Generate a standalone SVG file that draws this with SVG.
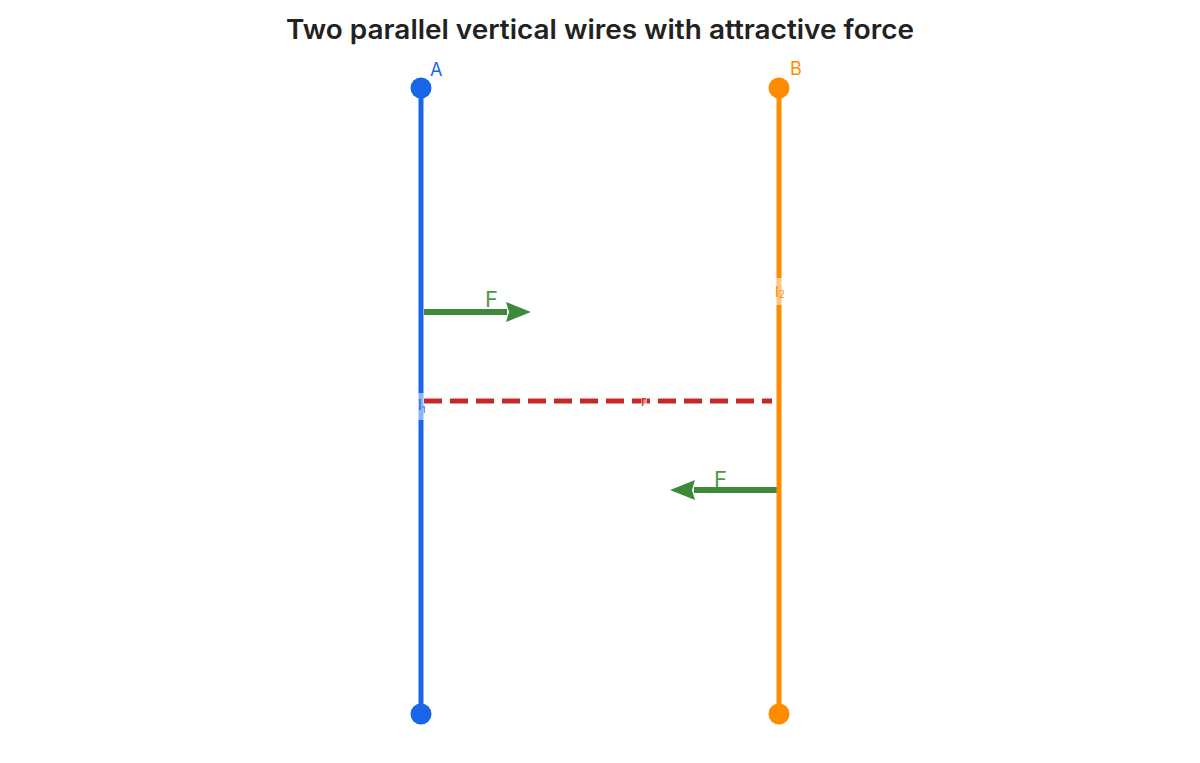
<svg xmlns="http://www.w3.org/2000/svg" width="1200" height="763" viewBox="0 0 1200 763">
  <defs>
    <style>
      .title { font-family: Inter, "Liberation Sans", sans-serif; font-weight: 600; font-size: 27px; fill: #222222; }
      .lbl { font-family: Inter, "Liberation Sans", sans-serif; font-size: 18px; }
      .small { font-family: Inter, "Liberation Sans", sans-serif; font-size: 14px; }
      .force { stroke: #3f8a3a; stroke-width: 6; fill: none; }
      .flabel { font-family: Inter, "Liberation Sans", sans-serif; font-size: 22px; fill: #4c9a45; }
      .wireA { stroke: #1a66e8; stroke-width: 5; }
      .wireB { stroke: #ff8c00; stroke-width: 5; }
      .tag { fill: #ffffff; fill-opacity: 0.5; }
    </style>
    <marker id="head" markerUnits="userSpaceOnUse" markerWidth="25" markerHeight="20" refX="1" refY="10" orient="auto">
      <path d="M0,0 L25,10 L0,20 L3,10 Z" fill="#3f8a3a"/>
    </marker>
  </defs>
  <rect width="1200" height="763" fill="#ffffff"/>
  <text class="title" x="600" y="39" text-anchor="middle" textLength="628" lengthAdjust="spacingAndGlyphs">Two parallel vertical wires with attractive force</text>

  <g id="connectors">
    <line id="separation" x1="424" y1="401" x2="772" y2="401" stroke="#c62828" stroke-width="5" stroke-dasharray="18 8"/>
    <line id="forceA" class="force" x1="424" y1="312" x2="507" y2="312" marker-end="url(#head)"/>
    <line id="forceB" class="force" x1="777" y1="490" x2="694" y2="490" marker-end="url(#head)"/>
  </g>

  <g id="wireA">
    <line class="wireA" x1="421" y1="88" x2="421" y2="714"/>
    <circle cx="421" cy="88" r="10.5" fill="#1a66e8"/>
    <circle cx="421" cy="714" r="10.5" fill="#1a66e8"/>
    <text class="lbl" x="430" y="76" fill="#1a66e8">A</text>
    <rect class="tag" x="418" y="393" width="6" height="27"/>
    <text class="small" x="418" y="410" fill="#1a66e8">I<tspan font-size="9" dy="3">1</tspan></text>
  </g>

  <g id="wireB">
    <line class="wireB" x1="779" y1="88" x2="779" y2="714"/>
    <circle cx="779" cy="88" r="10.5" fill="#ff8c00"/>
    <circle cx="779" cy="714" r="10.5" fill="#ff8c00"/>
    <text class="lbl" x="790" y="75" fill="#ff8c00">B</text>
    <rect class="tag" x="776" y="278" width="6" height="27"/>
    <text class="small" x="775" y="297" fill="#ff8c00">I<tspan font-size="10" dy="1">2</tspan></text>
  </g>

  <g id="labels">
    <rect class="tag" x="641" y="394" width="6" height="16"/>
    <text class="small" x="641" y="406" fill="#c62828">r</text>
    <text class="flabel" x="485" y="307">F</text>
    <text class="flabel" x="714" y="487">F</text>
  </g>
</svg>
